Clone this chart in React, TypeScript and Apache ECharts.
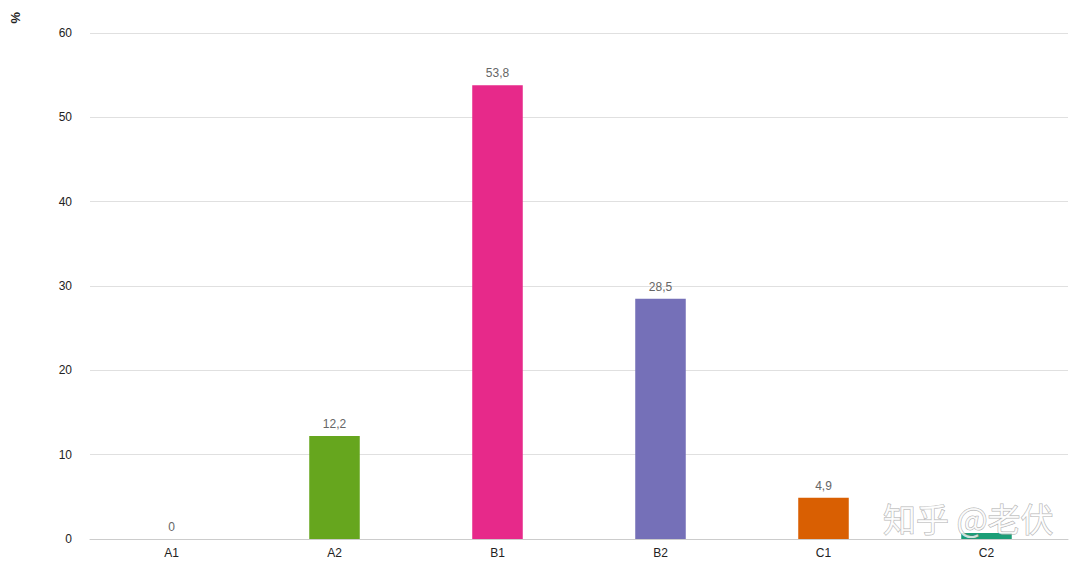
import React, { useEffect, useRef } from "react";
import * as echarts from "echarts";

const categories = ["A1", "A2", "B1", "B2", "C1", "C2"];
const values = [0, 12.2, 53.8, 28.5, 4.9, 0.7];
const colors = ["#e6ab02", "#66a61e", "#e7298a", "#7570b8", "#d95f02", "#1b9e77"];
const yTicks = [0, 10, 20, 30, 40, 50, 60];
const hiddenLabels = ["C2"];

export default function App() {
  const ref = useRef<HTMLDivElement>(null);
  useEffect(() => {
    document.body.style.margin = "0";
    const chart = echarts.init(ref.current!, undefined, { renderer: "svg" });
    chart.setOption({
      animation: false,
      textStyle: { fontFamily: "Liberation Sans, Arial, sans-serif" },
      grid: { left: 90, right: 12, top: 33, bottom: 27 },
      xAxis: {
        type: "category",
        data: categories,
        axisTick: { show: false },
        axisLine: { lineStyle: { color: "#cccccc" } },
        axisLabel: { color: "#222", fontSize: 12, margin: 8 },
      },
      yAxis: {
        type: "value",
        min: yTicks[0],
        max: yTicks[yTicks.length - 1],
        interval: 10,
        axisLabel: { color: "#222", fontSize: 12, margin: 18 },
        splitLine: { lineStyle: { color: "#e0e0e0" } },
        axisLine: { show: false },
        axisTick: { show: false },
      },
      series: [
        {
          type: "bar",
          barWidth: "31%",
          data: values.map((v, i) => ({
            value: v,
            itemStyle: { color: colors[i] },
            label: { show: !hiddenLabels.includes(categories[i]) },
          })),
          label: {
            show: true,
            position: "top",
            distance: 6,
            color: "#666",
            fontSize: 12,
            formatter: (p: any) => String(p.value).replace(".", ","),
          },
        },
      ],
      graphic: [
        {
          type: "text",
          x: 22,
          y: 12,
          rotation: -Math.PI / 2,
          originX: 0,
          originY: 0,
          style: { text: "%", fill: "#222", font: "bold 13px Liberation Sans, Arial, sans-serif" },
        },
        {
          type: "text",
          x: 883,
          y: 501,
          z: 100,
          style: {
            text: "知乎 @老伏",
            fill: "rgba(255,255,255,0.75)",
            stroke: "rgba(120,120,120,0.6)",
            lineWidth: 1,
            font: "33px 'Noto Sans CJK SC', sans-serif",
          },
        },
      ],
    });
    return () => chart.dispose();
  }, []);
  return <div ref={ref} style={{ width: 1080, height: 566 }} />;
}
